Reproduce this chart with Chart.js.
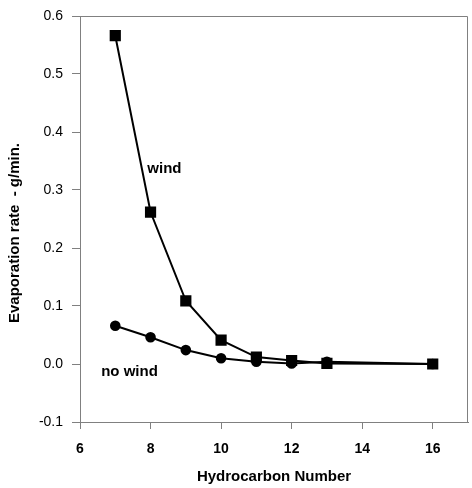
<!DOCTYPE html>
<html><head><meta charset="utf-8">
<script src="https://cdn.jsdelivr.net/npm/chart.js@4"></script>
<style>html,body{margin:0;padding:0;background:#fff}#wrap{width:472px;height:488px}</style>
</head><body><div id="wrap"><canvas id="c" width="472" height="488"></canvas></div>
<script>
const hydrocarbonNumbers = [7, 8, 9, 10, 11, 12, 13, 16];
const windRates = [0.566, 0.262, 0.109, 0.041, 0.012, 0.006, 0.001, 0.0];
const noWindRates = [0.066, 0.046, 0.024, 0.010, 0.004, 0.001, 0.004, 0.0];
const xTickValues = [6, 8, 10, 12, 14, 16];
const yTickValues = [-0.1, 0.0, 0.1, 0.2, 0.3, 0.4, 0.5, 0.6];
const seriesLabels = ['wind', 'no wind'];
const xTitle = 'Hydrocarbon Number';
const yTitle = 'Evaporation rate  - g/min.';

const FONT = "'Liberation Sans', Arial, sans-serif";
const AXIS = '#808080';

const annotations = {
  id: 'annotations',
  afterDatasetsDraw(chart) {
    const {ctx, scales: {x, y}, chartArea: a} = chart;
    ctx.save();
    ctx.strokeStyle = AXIS;
    ctx.lineWidth = 1;
    ctx.beginPath();
    ctx.moveTo(a.left, a.top + 0.5);
    ctx.lineTo(a.right - 0.5, a.top + 0.5);
    ctx.lineTo(a.right - 0.5, a.bottom);
    ctx.stroke();
    ctx.fillStyle = '#000';
    ctx.font = "bold 15px " + FONT;
    ctx.textBaseline = 'middle';
    ctx.textAlign = 'left';
    ctx.fillText(seriesLabels[0], x.getPixelForValue(7.91), y.getPixelForValue(0.336));
    ctx.fillText(seriesLabels[1], x.getPixelForValue(6.6), y.getPixelForValue(-0.013));
    ctx.translate(15, (a.top + a.bottom) / 2 + 14);
    ctx.rotate(-Math.PI / 2);
    ctx.textAlign = 'center';
    ctx.fillText(yTitle, 0, 0);
    ctx.restore();
  }
};

new Chart(document.getElementById('c'), {
  type: 'line',
  data: {
    datasets: [
      {label: seriesLabels[0], data: hydrocarbonNumbers.map((v, i) => ({x: v, y: windRates[i]})),
       borderColor: '#000', backgroundColor: '#000', borderWidth: 2, pointStyle: 'rect', pointRadius: 6.5, tension: 0},
      {label: seriesLabels[1], data: hydrocarbonNumbers.map((v, i) => ({x: v, y: noWindRates[i]})),
       borderColor: '#000', backgroundColor: '#000', borderWidth: 2, pointStyle: 'circle', pointRadius: 4.3, tension: 0}
    ]
  },
  options: {
    responsive: false,
    animation: false,
    devicePixelRatio: 1,
    layout: {autoPadding: false, padding: {left: 0, right: 4, top: 16, bottom: 0}},
    plugins: {legend: {display: false}, tooltip: {enabled: false}},
    scales: {
      x: {
        type: 'linear', min: 6, max: 17,
        afterBuildTicks: s => { s.ticks = xTickValues.map(v => ({value: v})); },
        afterFit: s => { s.height = 66; s.paddingLeft = 0; s.paddingRight = 0; },
        ticks: {color: '#000', font: {family: FONT, size: 14, weight: 'bold'}, padding: 12},
        grid: {drawOnChartArea: false, drawTicks: true, tickLength: 7, color: AXIS},
        border: {display: true, color: AXIS},
        title: {display: true, text: xTitle, color: '#000', font: {family: FONT, size: 15, weight: 'bold'}, padding: {top: 0, bottom: 2}}
      },
      y: {
        type: 'linear', min: -0.1, max: 0.6,
        afterBuildTicks: s => { s.ticks = yTickValues.map(v => ({value: v})); },
        afterFit: s => { s.width = 80; s.paddingTop = 0; s.paddingBottom = 0; },
        ticks: {color: '#000', font: {family: FONT, size: 14}, padding: 9, callback: v => v.toFixed(1)},
        grid: {drawOnChartArea: false, drawTicks: true, tickLength: 8, color: AXIS},
        border: {display: true, color: AXIS},
        title: {display: false, text: yTitle}
      }
    }
  },
  plugins: [annotations]
});
</script></body></html>
